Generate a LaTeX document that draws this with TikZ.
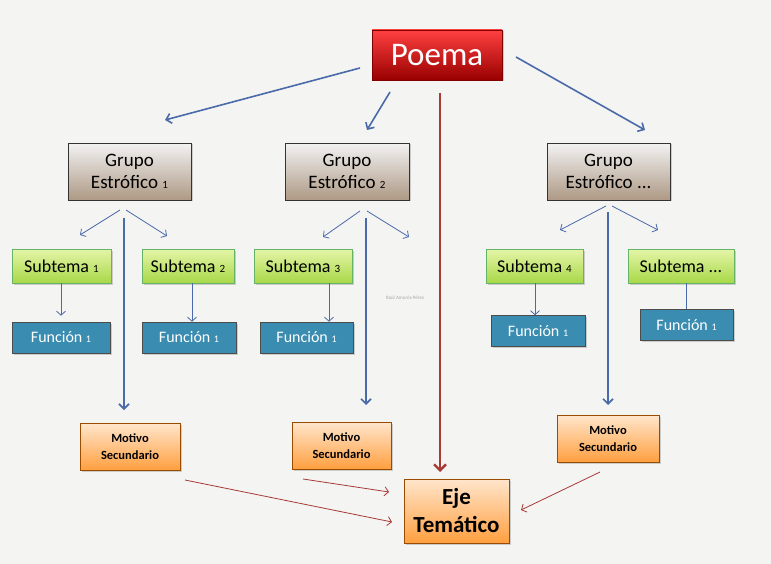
\documentclass[tikz,border=0pt]{standalone}
\usepackage{fontspec}
\setmainfont{Carlito}
\usetikzlibrary{arrows.meta,shadows}
\definecolor{bg}{HTML}{F4F4F2}
\definecolor{bl}{HTML}{4A6AAA}
\definecolor{rd}{HTML}{A83A36}
\definecolor{fun}{HTML}{3A8DB0}
\definecolor{subt}{HTML}{E4F5A8}
\definecolor{subb}{HTML}{A8D848}
\tikzset{
 bx/.style={draw=black!80,line width=0.6pt,minimum height=#1,align=center,inner sep=1pt,drop shadow={opacity=0.35,shadow xshift=1.5pt,shadow yshift=-1.5pt}},
 poemabox/.style={bx=50pt,minimum width=130pt,top color=red!75!white,bottom color=red!60!black,draw=red!50!black,text=white,font=\fontsize{33}{35}\selectfont},
 grupobox/.style={bx=57pt,minimum width=123pt,top color=gray!10,bottom color=gray!60!brown!80,font=\fontsize{19}{22}\selectfont},
 subbox/.style={bx=34pt,top color=subt,bottom color=subb,draw=green!50!black!60,font=\fontsize{18}{20}\selectfont},
 funbox/.style={bx=31pt,fill=fun,draw=black!70,text=white,font=\fontsize{16}{18}\selectfont},
 motbox/.style={bx=47pt,minimum width=100pt,top color=orange!20,bottom color=orange!75,draw=orange!60!black,font=\bfseries\fontsize{12.5}{17}\selectfont},
 ejebox/.style={bx=64pt,minimum width=105pt,top color=orange!20,bottom color=orange!75,draw=orange!60!black,font=\bfseries\fontsize{23}{28}\selectfont},
 ba/.style={draw=bl,line width=1.6pt,-{Straight Barb[length=5pt,width=10pt]}},
 bt/.style={draw=bl,line width=0.8pt,-{Straight Barb[length=4pt,width=9pt]}},
 rt/.style={draw=rd,line width=0.8pt,-{Straight Barb[length=4pt,width=9pt]}},
 rb/.style={draw=rd,line width=2.4pt,-{Straight Barb[length=6pt,width=12pt]}},
}
\begin{document}
\begin{tikzpicture}[x=1pt,y=-1pt]
\fill[bg] (0,0) rectangle (771,564);
\useasboundingbox (0,0) rectangle (771,564);
\node[poemabox] (poema) at (437,55) {Poema};
\node[grupobox] (g1) at (129.5,171.5) {Grupo\\Estrófico {\fontsize{11}{11}\selectfont 1}};
\node[grupobox,minimum width=124pt] (g2) at (347,171.5) {Grupo\\Estrófico {\fontsize{11}{11}\selectfont 2}};
\node[grupobox] (g3) at (608.5,171.5) {Grupo\\Estrófico ...};
\node[subbox,minimum width=99pt] (s1) at (61.5,266) {Subtema {\fontsize{11}{11}\selectfont 1}};
\node[subbox,minimum width=92pt] (s2) at (188,266) {Subtema {\fontsize{11}{11}\selectfont 2}};
\node[subbox,minimum width=98pt] (s3) at (303,266) {Subtema {\fontsize{11}{11}\selectfont 3}};
\node[subbox,minimum width=97pt] (s4) at (534.5,266) {Subtema {\fontsize{11}{11}\selectfont 4}};
\node[subbox,minimum width=106pt] (s5) at (681,266) {Subtema ...};
\node[funbox,minimum width=98pt] (f1) at (61,337.5) {Función {\fontsize{10}{10}\selectfont 1}};
\node[funbox,minimum width=94pt] (f2) at (189,337.5) {Función {\fontsize{10}{10}\selectfont 1}};
\node[funbox,minimum width=93pt] (f3) at (306.5,337.5) {Función {\fontsize{10}{10}\selectfont 1}};
\node[funbox,minimum width=94pt] (f4) at (538,331) {Función {\fontsize{10}{10}\selectfont 1}};
\node[funbox,minimum width=93pt] (f5) at (686.5,325) {Función {\fontsize{10}{10}\selectfont 1}};
\node[motbox] (m1) at (130,446.5) {Motivo\\Secundario};
\node[motbox,minimum width=99pt] (m2) at (341.5,445.5) {Motivo\\Secundario};
\node[motbox,minimum width=102pt] (m3) at (608,438.5) {Motivo\\Secundario};
\node[ejebox] (eje) at (456.5,511) {Eje\\Temático};
\node[text=gray!70,font=\fontsize{5}{5}\selectfont] (wm) at (405,298) {Raúl Amorós Pérez};
\coordinate (a1) at (360,68); \coordinate (a2) at (165,120);
\coordinate (b1) at (390,92); \coordinate (b2) at (367,130);
\coordinate (c1) at (440,93); \coordinate (c2) at (440,472);
\coordinate (d1) at (516,57); \coordinate (d2) at (645,130);
\coordinate (e1) at (120,210); \coordinate (e2) at (80,235);
\coordinate (e3) at (126,210); \coordinate (e4) at (167,236);
\coordinate (e5) at (124,218); \coordinate (e6) at (124,410);
\coordinate (h1) at (360,211); \coordinate (h2) at (323,237);
\coordinate (h3) at (367,211); \coordinate (h4) at (409,237);
\coordinate (h5) at (366,218); \coordinate (h6) at (366,405);
\coordinate (k1) at (606,206); \coordinate (k2) at (560,230);
\coordinate (k3) at (612,206); \coordinate (k4) at (658,230);
\coordinate (k5) at (608,212); \coordinate (k6) at (608,405);
\coordinate (r1) at (185,480); \coordinate (r2) at (392,522);
\coordinate (r3) at (303,479); \coordinate (r4) at (389,492);
\coordinate (r5) at (600,472); \coordinate (r6) at (521,510);
\coordinate (x1) at (61,0); \coordinate (x2) at (192,0); \coordinate (x3) at (329,0);
\coordinate (x4) at (535,0); \coordinate (x5) at (686,0);
\draw[ba] (a1) -- (a2);
\draw[ba] (b1) -- (b2);
\draw[ba] (d1) -- (d2);
\draw[rb] (c1) -- (c2);
\draw[bt] (e1) -- (e2); \draw[bt] (e3) -- (e4); \draw[ba] (e5) -- (e6);
\draw[bt] (h1) -- (h2); \draw[bt] (h3) -- (h4); \draw[ba] (h5) -- (h6);
\draw[bt] (k1) -- (k2); \draw[bt] (k3) -- (k4); \draw[ba] (k5) -- (k6);
\draw[bt] (s1.south -| x1) -- ([yshift=6pt]f1.north -| x1);
\draw[bt] (s2.south -| x2) -- (f2.north -| x2);
\draw[bt] (s3.south -| x3) -- (f3.north -| x3);
\draw[bt] (s4.south -| x4) -- (f4.north -| x4);
\draw[draw=bl,line width=0.8pt] (s5.south -| x5) -- (f5.north -| x5);
\draw[rt] (r1) -- (r2); \draw[rt] (r3) -- (r4); \draw[rt] (r5) -- (r6);
\end{tikzpicture}
\end{document}
